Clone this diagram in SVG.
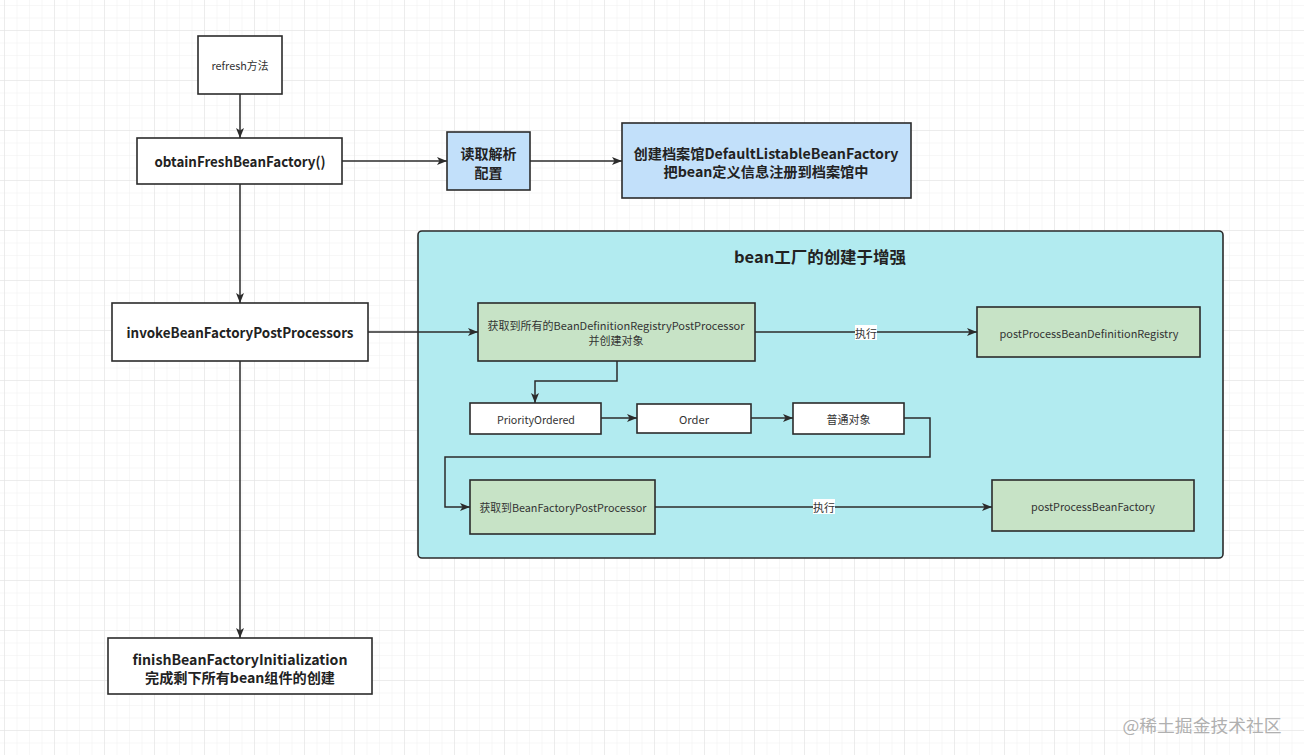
<svg xmlns="http://www.w3.org/2000/svg" width="1304" height="755" viewBox="0 0 1304 755">
<defs>
<pattern id="minor" width="12.5" height="12.5" patternUnits="userSpaceOnUse" x="4" y="5">
<path d="M0 0H12.5M0 0V12.5" fill="none" stroke="#efefef" stroke-width="1"/>
</pattern>
<pattern id="major" width="50" height="50" patternUnits="userSpaceOnUse" x="4" y="30">
<path d="M0 0H50M0 0V50" fill="none" stroke="#e1e1e1" stroke-width="1"/>
</pattern>
<marker id="arr" viewBox="0 0 10 10" refX="10" refY="5" markerWidth="10" markerHeight="10" markerUnits="userSpaceOnUse" orient="auto">
<path d="M0 1 L10 5 L0 9 L2.5 5 Z" fill="#2b2b2b"/>
</marker>
<style>
.box{stroke:#2b2b2b;stroke-width:1.6}
.w{fill:#ffffff}
.blue{fill:#c2e0fa}
.green{fill:#c7e3c6}
.c{fill:none;stroke:#2b2b2b;stroke-width:1.5}
text{font-family:'Noto Sans CJK SC','Noto Sans',sans-serif;text-anchor:middle;dominant-baseline:central}
.b{font-size:14px;font-weight:bold;fill:#222}
.s{font-size:11px;fill:#333}
.lbl{fill:#ffffff}
</style>
</defs>
<rect width="1304" height="755" fill="#ffffff"/>
<rect width="1304" height="755" fill="url(#minor)"/>
<rect width="1304" height="755" fill="url(#major)"/>

<g id="container">
<rect x="418" y="231" width="805" height="327" rx="4" fill="#b2ebf0" class="box"/>
<text x="820" y="256" class="b" style="font-size:16px" textLength="172" lengthAdjust="spacingAndGlyphs">bean工厂的创建于增强</text>
</g>

<g id="connectors">
<path class="c" d="M240 94V138" marker-end="url(#arr)"/>
<path class="c" d="M342 161H447" marker-end="url(#arr)"/>
<path class="c" d="M530 161H622" marker-end="url(#arr)"/>
<path class="c" d="M240 184V303" marker-end="url(#arr)"/>
<path class="c" d="M368 332H478" marker-end="url(#arr)"/>
<path class="c" d="M755 332H977" marker-end="url(#arr)"/>
<path class="c" d="M617 361V381H535V403" marker-end="url(#arr)"/>
<path class="c" d="M601 418H637" marker-end="url(#arr)"/>
<path class="c" d="M751 418H793" marker-end="url(#arr)"/>
<path class="c" d="M904 418H930V457H445V507H470" marker-end="url(#arr)"/>
<path class="c" d="M655 507H992" marker-end="url(#arr)"/>
<path class="c" d="M240 361V638" marker-end="url(#arr)"/>
<rect x="855" y="325" width="22" height="15" class="lbl"/>
<text x="866" y="333" class="s">执行</text>
<rect x="813" y="499" width="22" height="15" class="lbl"/>
<text x="824" y="507" class="s">执行</text>
</g>

<g id="refresh">
<rect x="198" y="36" width="84" height="58" class="box w"/>
<text x="240" y="65" class="s" textLength="57" lengthAdjust="spacingAndGlyphs">refresh方法</text>
</g>
<g id="obtain">
<rect x="137" y="138" width="205" height="46" class="box w"/>
<text x="240" y="161" class="b" textLength="171" lengthAdjust="spacingAndGlyphs">obtainFreshBeanFactory()</text>
</g>
<g id="parse">
<rect x="447" y="132" width="83" height="58" class="box blue"/>
<text x="488.5" y="153" class="b">读取解析</text>
<text x="488.5" y="172" class="b">配置</text>
</g>
<g id="create">
<rect x="622" y="123" width="289" height="75" class="box blue"/>
<text x="766" y="153" class="b" textLength="265" lengthAdjust="spacingAndGlyphs">创建档案馆DefaultListableBeanFactory</text>
<text x="766" y="171" class="b" textLength="205" lengthAdjust="spacingAndGlyphs">把bean定义信息注册到档案馆中</text>
</g>
<g id="invoke">
<rect x="112" y="303" width="256" height="58" class="box w"/>
<text x="240" y="332" class="b" textLength="227" lengthAdjust="spacingAndGlyphs">invokeBeanFactoryPostProcessors</text>
</g>
<g id="getRegistry">
<rect x="478" y="303" width="277" height="58" class="box green"/>
<text x="616" y="325" class="s" textLength="257" lengthAdjust="spacingAndGlyphs">获取到所有的BeanDefinitionRegistryPostProcessor</text>
<text x="616" y="340" class="s">并创建对象</text>
</g>
<g id="ppbdr">
<rect x="977" y="307" width="223" height="50" class="box green"/>
<text x="1089" y="333" class="s" textLength="179" lengthAdjust="spacingAndGlyphs">postProcessBeanDefinitionRegistry</text>
</g>
<g id="priority">
<rect x="470" y="403" width="131" height="31" class="box w"/>
<text x="536" y="418.5" class="s" textLength="78" lengthAdjust="spacingAndGlyphs">PriorityOrdered</text>
</g>
<g id="order">
<rect x="637" y="404" width="114" height="29" class="box w"/>
<text x="694" y="418.5" class="s" textLength="30" lengthAdjust="spacingAndGlyphs">Order</text>
</g>
<g id="normal">
<rect x="793" y="403" width="111" height="31" class="box w"/>
<text x="848.5" y="418.5" class="s">普通对象</text>
</g>
<g id="getBFPP">
<rect x="470" y="480" width="185" height="54" class="box green"/>
<text x="563" y="507" class="s" textLength="167" lengthAdjust="spacingAndGlyphs">获取到BeanFactoryPostProcessor</text>
</g>
<g id="ppbf">
<rect x="992" y="480" width="202" height="51" class="box green"/>
<text x="1093" y="506" class="s" textLength="124" lengthAdjust="spacingAndGlyphs">postProcessBeanFactory</text>
</g>
<g id="finish">
<rect x="108" y="638" width="264" height="56" class="box w"/>
<text x="240" y="659" class="b" textLength="215" lengthAdjust="spacingAndGlyphs">finishBeanFactoryInitialization</text>
<text x="240" y="677" class="b" textLength="190" lengthAdjust="spacingAndGlyphs">完成剩下所有bean组件的创建</text>
</g>
<text x="1202" y="724" style="font-size:17px;fill:#b0b0b0" textLength="159" lengthAdjust="spacingAndGlyphs">@稀土掘金技术社区</text>
</svg>
